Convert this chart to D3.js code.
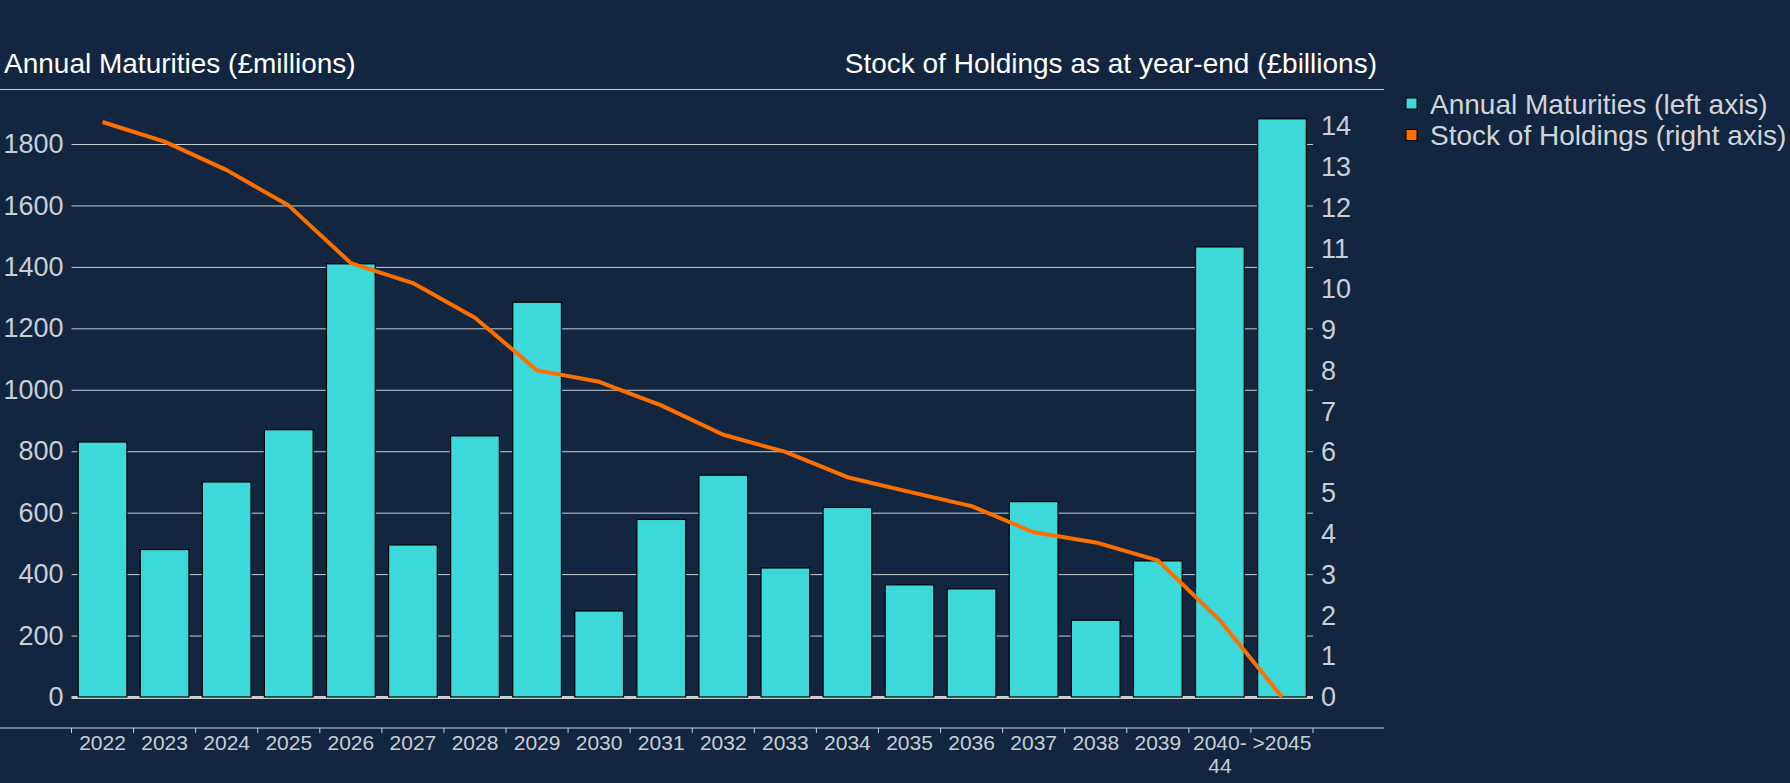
<!DOCTYPE html>
<html>
<head>
<meta charset="utf-8">
<script src="https://cdn.jsdelivr.net/npm/d3@7"></script>
<style>
  body { margin: 0; background: #132640; }
  svg { display: block; font-family: "Liberation Sans", Arial, sans-serif; }
</style>
</head>
<body>
<div id="chart"></div>
<script>
// data
const categories = ['2022','2023','2024','2025','2026','2027','2028','2029','2030','2031',
  '2032','2033','2034','2035','2036','2037','2038','2039','2040-44','>2045'];
const maturities = [830, 480, 700, 870, 1410, 495, 850, 1285, 280, 578,
  722, 420, 617, 365, 352, 636, 250, 443, 1465, 1882];
const holdings = [14.10, 13.62, 12.92, 12.05, 10.64, 10.15, 9.30, 8.01, 7.73, 7.15,
  6.43, 6.01, 5.39, 5.03, 4.68, 4.04, 3.79, 3.35, 1.88, 0];
const leftTicks = [0, 200, 400, 600, 800, 1000, 1200, 1400, 1600, 1800];
const rightTicks = [0, 1, 2, 3, 4, 5, 6, 7, 8, 9, 10, 11, 12, 13, 14];
const legendItems = ['Annual Maturities (left axis)', 'Stock of Holdings (right axis)'];

const width = 1790, height = 783;
const barColor = '#3dd8da', lineColor = '#ff6f00';
const gridColor = '#c8ccd3', labelColor = '#c9ced6';

const svg = d3.select('#chart').append('svg')
  .attr('width', width)
  .attr('height', height);

const x = d3.scaleBand()
  .domain(categories)
  .range([71.5, 1313])
  .paddingInner(0.215)
  .paddingOuter(0.1075);

const yL = d3.scaleLinear().domain([0, 1800]).range([697, 144]);
const yR = d3.scaleLinear().domain([0, 14]).range([697, 697 - 14 * 40.78]);

// titles
svg.append('text')
  .attr('x', 4).attr('y', 73)
  .style('font-size', '28px').style('fill', '#ffffff')
  .text('Annual Maturities (£millions)');
svg.append('text')
  .attr('x', 1377).attr('y', 73)
  .attr('text-anchor', 'end')
  .style('font-size', '28px').style('fill', '#ffffff')
  .text('Stock of Holdings as at year-end (£billions)');

// top frame line
svg.append('line')
  .attr('x1', 0).attr('x2', 1384).attr('y1', 89.5).attr('y2', 89.5)
  .style('stroke', gridColor).style('stroke-width', 1);

// left axis with gridlines
const leftAxis = svg.append('g')
  .attr('transform', 'translate(71.5,0)')
  .call(d3.axisLeft(yL)
    .tickValues(leftTicks)
    .tickFormat(d3.format('d'))
    .tickSize(-(1313 - 71.5))
    .tickPadding(8));
leftAxis.select('.domain').remove();
leftAxis.selectAll('.tick line')
  .style('stroke', gridColor)
  .style('stroke-width', d => d === 0 ? 3 : 1);
leftAxis.selectAll('.tick text')
  .style('font-size', '27px')
  .style('fill', labelColor)
  .style('font-family', '"Liberation Sans", Arial, sans-serif');

// bars
svg.append('g').selectAll('rect')
  .data(categories)
  .enter().append('rect')
  .attr('x', d => x(d))
  .attr('width', x.bandwidth())
  .attr('y', (d, i) => yL(maturities[i]))
  .attr('height', (d, i) => yL(0) - yL(maturities[i]))
  .style('fill', barColor)
  .style('stroke', '#000000')
  .style('stroke-width', 1.2);

// holdings line
const line = d3.line()
  .x((d, i) => x(categories[i]) + x.bandwidth() / 2)
  .y(d => yR(d));
svg.append('path')
  .datum(holdings)
  .attr('d', line)
  .style('fill', 'none')
  .style('stroke', lineColor)
  .style('stroke-width', 4)
  .style('stroke-linejoin', 'round');

// right axis labels
const rightAxis = svg.append('g')
  .attr('transform', 'translate(1313,0)')
  .call(d3.axisRight(yR)
    .tickValues(rightTicks)
    .tickFormat(d3.format('d'))
    .tickSize(0)
    .tickPadding(8));
rightAxis.select('.domain').remove();
rightAxis.selectAll('.tick text')
  .style('font-size', '27px')
  .style('fill', labelColor)
  .style('font-family', '"Liberation Sans", Arial, sans-serif');

// bottom axis
const axisY = 728;
svg.append('line')
  .attr('x1', 0).attr('x2', 1384).attr('y1', axisY).attr('y2', axisY)
  .style('stroke', gridColor).style('stroke-width', 1);
const gap = (x.step() - x.bandwidth()) / 2;
const boundaries = categories.map(c => x(c) - gap).concat([x(categories[categories.length - 1]) + x.bandwidth() + gap]);
svg.append('g').selectAll('line')
  .data(boundaries)
  .enter().append('line')
  .attr('x1', d => d).attr('x2', d => d)
  .attr('y1', axisY).attr('y2', axisY + 5)
  .style('stroke', gridColor).style('stroke-width', 1);

const xLabels = svg.append('g').selectAll('text')
  .data(categories)
  .enter().append('text')
  .attr('text-anchor', 'middle')
  .attr('x', d => x(d) + x.bandwidth() / 2)
  .attr('y', 750)
  .style('font-size', '21px')
  .style('fill', labelColor);
xLabels.each(function(d) {
  const cut = d.indexOf('-');
  const parts = cut > 0 ? [d.slice(0, cut + 1), d.slice(cut + 1)] : [d];
  const el = d3.select(this);
  parts.forEach((p, i) => {
    el.append('tspan')
      .attr('x', x(d) + x.bandwidth() / 2)
      .attr('dy', i === 0 ? 0 : 23)
      .text(p);
  });
});

// legend
const legend = svg.append('g').attr('transform', 'translate(1406,98)');
legendItems.forEach((name, i) => {
  const g = legend.append('g').attr('transform', 'translate(0,' + (i * 31.5) + ')');
  g.append('rect')
    .attr('width', 11).attr('height', 11)
    .style('fill', i === 0 ? barColor : lineColor)
    .style('stroke', '#000000').style('stroke-width', 1);
  g.append('text')
    .attr('x', 24).attr('y', 15.5)
    .style('font-size', '28px')
    .style('fill', '#d0d4da')
    .text(name);
});
</script>
</body>
</html>
